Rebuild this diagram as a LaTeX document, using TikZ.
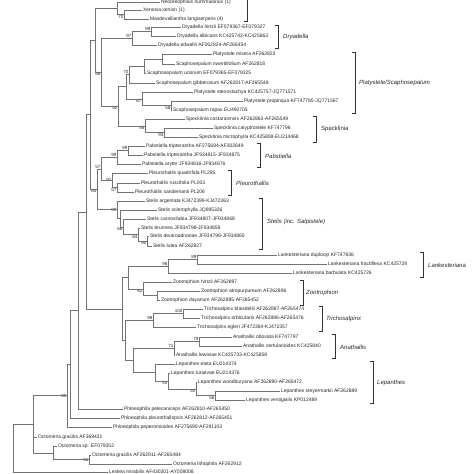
\documentclass[tikz,border=0pt]{standalone}
\usepackage{fontspec}
\setmainfont{Liberation Sans}
\usetikzlibrary{positioning}

\tikzset{
  taxon/.style={anchor=west, inner sep=0.8pt, text=black!85, font=\fontsize{5}{6}\selectfont},
  clade/.style={anchor=west, inner sep=0pt, text=black!85, font=\fontsize{6}{7}\selectfont\itshape},
  bs/.style={inner sep=0.3pt, text=black!85, font=\fontsize{4.5}{5}\selectfont},
  branch/.style={black!55, line width=0.5pt},
  brk/.style={black!80, line width=0.8pt}
}

\begin{document}
\begin{tikzpicture}[x=1pt,y=-1pt]
\useasboundingbox (0,0) rectangle (474,474);

% taxa
\node[taxon] (neo) at (160,2) {Neooreophilus nummularius (1)};
\node[taxon] (xen) at (142,10) {Xenosia xenion (1)};
\node[taxon] (mas) at (149,19) {Masdevalliantha longiserpens (4)};
\node[taxon] (dhir) at (181,27) {Dryadella hirtzii EF079367-EF079327};
\node[taxon] (dalb) at (176,36) {Dryadella albicans KC425742-KC425863};
\node[taxon] (dedw) at (157,45) {Dryadella edwallii AF262824-AF265454};
\node[taxon] (pmis) at (212,54) {Platystele misera AF262823};
\node[taxon] (sswe) at (175,64) {Scaphosepalum swertiifolium AF262818};
\node[taxon] (surs) at (146,73) {Scaphosepalum ursinum EF079365-EF079325};
\node[taxon] (sgib) at (155,83) {Scaphosepalum gibberosum AF262817-AF265548};
\node[taxon] (pste) at (193,92) {Platystele stenostachya KC425757-JQ771571};
\node[taxon] (ppro) at (243,101) {Platystele propinqua KF747785-JQ771567};
\node[taxon] (srap) at (172,110) {Scaphosepalum rapax EU490705};
\node[taxon] (scos) at (185,119) {Specklinia costaricensis AF262863-AF265549};
\node[taxon] (scal) at (213,128) {Specklinia calyptrostele KF747796};
\node[taxon] (smic) at (198,137) {Specklinia microphylla KC425808-EU214468};
\node[taxon] (ptr1) at (145,146) {Pabstiella tripterantha AF275694-AF302649};
\node[taxon] (ptr2) at (143,155) {Pabstiella tripterantha JF934815-JF934875};
\node[taxon] (pary) at (141,164) {Pabstiella aryter JF934816-JF934876};
\node[taxon] (pqua) at (148,173) {Pleurothallis quadrifida PL295};
\node[taxon] (prus) at (140,183) {Pleurothallis ruscifolia PL003};
\node[taxon] (psan) at (134,192) {Pleurothallis sandemanii PL206};
\node[taxon] (sarg) at (145,201) {Stelis argentata KJ472399-KJ472363};
\node[taxon] (sscl) at (157,210) {Stelis sclerophylla JQ995326};
\node[taxon] (scar) at (146,219) {Stelis carnosilabia JF934807-JF934868};
\node[taxon] (sbru) at (140,228) {Stelis brunnea JF934798-JF934859};
\node[taxon] (sdeu) at (149,236) {Stelis deutroadnanae JF934799-JF934860};
\node[taxon] (slut) at (152,246) {Stelis lutea AF262827};
\node[taxon] (ldup) at (277,255) {Lankesteriana duplooyi KF747836};
\node[taxon] (lfra) at (327,264) {Lankesteriana fractiflexa KC425729};
\node[taxon] (lbar) at (292,273) {Lankesteriana barbulata KC425726};
\node[taxon] (zhir) at (172,282) {Zootrophion hirtzii AF262897};
\node[taxon] (zatr) at (200,291) {Zootrophion atropurpureum AF262896};
\node[taxon] (zday) at (160,300) {Zootrophion dayanum AF262895-AF265452};
\node[taxon] (tbla) at (203,309) {Trichosalpinx blaisdellii AF262887-AF265474};
\node[taxon] (torb) at (200,318) {Trichosalpinx orbicularis AF262886-AF265476};
\node[taxon] (tegl) at (196,327) {Trichosalpinx egleri JF472384-KJ472357};
\node[taxon] (aobo) at (232,337) {Anathallis obovata KF747797};
\node[taxon] (aser) at (242,346) {Anathallis sertularioides KC425840};
\node[taxon] (alew) at (175,355) {Anathallis lewisiae KC425733-KC425858};
\node[taxon] (lela) at (175,364) {Lepanthes elata EU214374};
\node[taxon] (ltur) at (170,373) {Lepanthes turialvae EU214376};
\node[taxon] (lwoo) at (197,382) {Lepanthes woodburyana AF262890-AF265472};
\node[taxon] (lste) at (280,391) {Lepanthes steyermarkii AF262889};
\node[taxon] (lves) at (245,400) {Lepanthes vestigialis KP012489};
\node[taxon] (ppel) at (123,409) {Phloeophila pelecaniceps AF262810-AF265450};
\node[taxon] (pple) at (120,418) {Phloeophila pleurothallopsis AF262812-AF265451};
\node[taxon] (ppep) at (112,427) {Phloeophila peperomioides AF275690-AF291103};
\node[taxon] (ogr1) at (37,437) {Octomeria gracilis AF369421};
\node[taxon] (osp) at (57,446) {Octomeria sp. EF079352};
\node[taxon] (ogr2) at (91,455) {Octomeria gracilis AF262911-AF265484};
\node[taxon] (olit) at (172,464) {Octomeria lithophila AF262912};
\node[taxon] (lesl) at (108,472) {Lesliea mirabilis AF430301-AY008008};

% inner nodes
\coordinate [label={[bs]below left:70}] (nXM) at (124,14.5);
\coordinate (nTop) at (117,8.25);
\coordinate [label={[bs]above left:99}] (nDh) at (151,31.5);
\coordinate [label={[bs]above left:97}] (nDry) at (132,38.25);
\coordinate (nPm) at (162,59);
\coordinate (nPs) at (144,66);
\coordinate [label={[bs]above left:70}] (nPs2) at (129,74.5);
\coordinate [label={[bs]below left:58}] (nPr) at (171,105.5);
\coordinate [label={[bs]below left:67}] (nPst) at (142,98.75);
\coordinate (nPlat) at (126,86.6);
\coordinate [label={[bs]below left:93}] (nSp1) at (164,132.5);
\coordinate [label={[bs]below left:95}] (nSp2) at (145,125.75);
\coordinate [label={[bs]below left:92}] (nPS) at (118,106.2);
\coordinate [label={[bs]below left:56}] (nDPS) at (101,72.2);
\coordinate (nU1) at (95,40.2);
\coordinate [label={[bs]above left:99}] (nPab1) at (128,150.5);
\coordinate [label={[bs]above left:99}] (nPab2) at (117,157.25);
\coordinate [label={[bs]below left:57}] (nPl1) at (117,187.5);
\coordinate [label={[bs]left:92}] (nPl2) at (112,180.25);
\coordinate [label={[bs]above left:57}] (nPP) at (101,168.75);
\coordinate [label={[bs]below left:90}] (nSt1) at (147,241);
\coordinate [label={[bs]below left:84}] (nSt2) at (138,234.5);
\coordinate [label={[bs]below left:66}] (nSt3) at (123,226.75);
\coordinate (nSt4) at (120,218.4);
\coordinate [label={[bs]left:99}] (nSt5) at (117,209.7);
\coordinate [label={[bs]below left:64}] (nPPS) at (97,189.2);
\coordinate (nU2) at (90,114.7);
\coordinate [label={[bs]above left:89}] (nLa1) at (197,259.5);
\coordinate [label={[bs]above left:96}] (nLa2) at (168,266.25);
\coordinate (nZo1) at (157,295.5);
\coordinate [label={[bs]below left:62}] (nZo2) at (143,288.75);
\coordinate (nLZ) at (128,277.5);
\coordinate [label={[bs]above left:100}] (nTr1) at (183,313.5);
\coordinate [label={[bs]above left:98}] (nTr2) at (153,320.25);
\coordinate [label={[bs]above left:79}] (nAn1) at (199,341.5);
\coordinate [label={[bs]above left:71}] (nAn2) at (174,348.25);
\coordinate [label={[bs]below left:56}] (nLe1) at (215,395.5);
\coordinate [label={[bs]below left:92}] (nLe2) at (196,388.75);
\coordinate [label={[bs]below left:53}] (nLe3) at (168,380.9);
\coordinate (nLe4) at (155,372.4);
\coordinate (nAL) at (133,360.3);
\coordinate (nTAL) at (125,340.3);
\coordinate (nM) at (122,308.9);
\coordinate (nK1) at (86,211.8);
\coordinate (nK2) at (78,310.5);
\coordinate (nK3) at (70,364);
\coordinate [label={[bs]left:85}] (nK4) at (67,395.5);
\coordinate [label={[bs]left:56}] (nO1) at (89,459.5);
\coordinate (nO2) at (53,453);
\coordinate (nK5) at (33,424);
\coordinate (nRoot) at (13,448);

% branches
\draw[branch] (nXM) |- (xen);
\draw[branch] (nXM) |- (mas);
\draw[branch] (nTop) |- (neo);
\draw[branch] (nTop) |- (nXM);
\draw[branch] (nDh) |- (dhir);
\draw[branch] (nDh) |- (dalb);
\draw[branch] (nDry) |- (nDh);
\draw[branch] (nDry) |- (dedw);
\draw[branch] (nPm) |- (pmis);
\draw[branch] (nPm) |- (sswe);
\draw[branch] (nPs) |- (nPm);
\draw[branch] (nPs) |- (surs);
\draw[branch] (nPs2) |- (nPs);
\draw[branch] (nPs2) |- (sgib);
\draw[branch] (nPr) |- (ppro);
\draw[branch] (nPr) |- (srap);
\draw[branch] (nPst) |- (pste);
\draw[branch] (nPst) |- (nPr);
\draw[branch] (nPlat) |- (nPs2);
\draw[branch] (nPlat) |- (nPst);
\draw[branch] (nSp1) |- (scal);
\draw[branch] (nSp1) |- (smic);
\draw[branch] (nSp2) |- (scos);
\draw[branch] (nSp2) |- (nSp1);
\draw[branch] (nPS) |- (nPlat);
\draw[branch] (nPS) |- (nSp2);
\draw[branch] (nDPS) |- (nDry);
\draw[branch] (nDPS) |- (nPS);
\draw[branch] (nU1) |- (nTop);
\draw[branch] (nU1) |- (nDPS);
\draw[branch] (nPab1) |- (ptr1);
\draw[branch] (nPab1) |- (ptr2);
\draw[branch] (nPab2) |- (nPab1);
\draw[branch] (nPab2) |- (pary);
\draw[branch] (nPl1) |- (prus);
\draw[branch] (nPl1) |- (psan);
\draw[branch] (nPl2) |- (pqua);
\draw[branch] (nPl2) |- (nPl1);
\draw[branch] (nPP) |- (nPab2);
\draw[branch] (nPP) |- (nPl2);
\draw[branch] (nSt1) |- (sdeu);
\draw[branch] (nSt1) |- (slut);
\draw[branch] (nSt2) |- (sbru);
\draw[branch] (nSt2) |- (nSt1);
\draw[branch] (nSt3) |- (scar);
\draw[branch] (nSt3) |- (nSt2);
\draw[branch] (nSt4) |- (sscl);
\draw[branch] (nSt4) |- (nSt3);
\draw[branch] (nSt5) |- (sarg);
\draw[branch] (nSt5) |- (nSt4);
\draw[branch] (nPPS) |- (nPP);
\draw[branch] (nPPS) |- (nSt5);
\draw[branch] (nU2) |- (nU1);
\draw[branch] (nU2) |- (nPPS);
\draw[branch] (nLa1) |- (ldup);
\draw[branch] (nLa1) |- (lfra);
\draw[branch] (nLa2) |- (nLa1);
\draw[branch] (nLa2) |- (lbar);
\draw[branch] (nZo1) |- (zatr);
\draw[branch] (nZo1) |- (zday);
\draw[branch] (nZo2) |- (zhir);
\draw[branch] (nZo2) |- (nZo1);
\draw[branch] (nLZ) |- (nLa2);
\draw[branch] (nLZ) |- (nZo2);
\draw[branch] (nTr1) |- (tbla);
\draw[branch] (nTr1) |- (torb);
\draw[branch] (nTr2) |- (nTr1);
\draw[branch] (nTr2) |- (tegl);
\draw[branch] (nAn1) |- (aobo);
\draw[branch] (nAn1) |- (aser);
\draw[branch] (nAn2) |- (nAn1);
\draw[branch] (nAn2) |- (alew);
\draw[branch] (nLe1) |- (lste);
\draw[branch] (nLe1) |- (lves);
\draw[branch] (nLe2) |- (lwoo);
\draw[branch] (nLe2) |- (nLe1);
\draw[branch] (nLe3) |- (ltur);
\draw[branch] (nLe3) |- (nLe2);
\draw[branch] (nLe4) |- (lela);
\draw[branch] (nLe4) |- (nLe3);
\draw[branch] (nAL) |- (nAn2);
\draw[branch] (nAL) |- (nLe4);
\draw[branch] (nTAL) |- (nTr2);
\draw[branch] (nTAL) |- (nAL);
\draw[branch] (nM) |- (nLZ);
\draw[branch] (nM) |- (nTAL);
\draw[branch] (nK1) |- (nU2);
\draw[branch] (nK1) |- (nM);
\draw[branch] (nK2) |- (nK1);
\draw[branch] (nK2) |- (ppel);
\draw[branch] (nK3) |- (nK2);
\draw[branch] (nK3) |- (pple);
\draw[branch] (nK4) |- (nK3);
\draw[branch] (nK4) |- (ppep);
\draw[branch] (nO1) |- (ogr2);
\draw[branch] (nO1) |- (olit);
\draw[branch] (nO2) |- (osp);
\draw[branch] (nO2) |- (nO1);
\draw[branch] (nK5) |- (nK4);
\draw[branch] (nK5) |- (ogr1);
\draw[branch] (nK5) |- (nO2);
\draw[branch] (nRoot) |- (nK5);
\draw[branch] (nRoot) |- (lesl);

% clade brackets
\draw[brk] (244,-2) -- (247,-2) -- (247,21) -- (244,21);
\draw[brk] (275,25) -- (278,25) -- (278,48) -- (275,48);
\node[clade] (gDry) at (283,37) {Dryadella};
\draw[brk] (352,52) -- (355,52) -- (355,113) -- (352,113);
\node[clade] (gPla) at (359,83) {Platystele/Scaphosepalum};
\draw[brk] (313,116) -- (316,116) -- (316,142) -- (313,142);
\node[clade, font=\fontsize{6}{7}\selectfont] (gSpe) at (321,129) {Specklinia};
\draw[brk] (257,143) -- (260,143) -- (260,167) -- (257,167);
\node[clade] (gPab) at (265,156) {Pabstiella};
\draw[brk] (228,170) -- (231,170) -- (231,195) -- (228,195);
\node[clade] (gPle) at (236,183) {Pleurothallis};
\draw[brk] (259,198) -- (262,198) -- (262,249) -- (259,249);
\node[clade] (gSte) at (267,222) {Stelis (inc. Salpistele)};
\draw[brk] (420,252) -- (423,252) -- (423,277) -- (420,277);
\node[clade] (gLan) at (428,265) {Lankesteriana};
\draw[brk] (300,280) -- (303,280) -- (303,305) -- (300,305);
\node[clade] (gZoo) at (306,293) {Zootrophion};
\draw[brk] (319,306) -- (322,306) -- (322,331) -- (319,331);
\node[clade] (gTri) at (326,319) {Trichosalpinx};
\draw[brk] (332,334) -- (335,334) -- (335,358) -- (332,358);
\node[clade] (gAna) at (340,347) {Anathallis};
\draw[brk] (370,361) -- (373,361) -- (373,403) -- (370,403);
\node[clade] (gLep) at (377,383) {Lepanthes};
\end{tikzpicture}
\end{document}
